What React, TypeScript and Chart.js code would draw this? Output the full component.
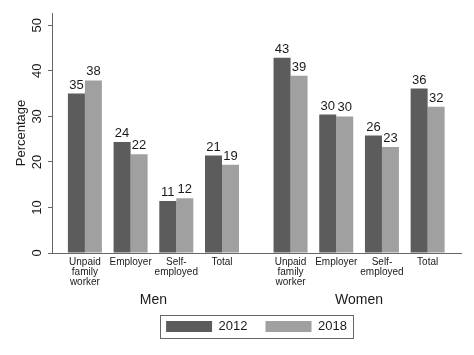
import React, { useEffect, useRef } from "react";
import { Chart, registerables } from "chart.js";

Chart.register(...registerables);

const groups = ["Men", "Women"];
const categoryLabels: string[][] = [
  ["Unpaid", "family", "worker"],
  ["Employer"],
  ["Self-", "employed"],
  ["Total"],
];
const seriesNames = ["2012", "2018"];
// values per group: Men (4 categories), then Women (4 categories)
const values2012 = [35.0, 24.4, 11.4, 21.4, 42.9, 30.4, 25.8, 36.1];
const values2018 = [37.9, 21.7, 12.0, 19.4, 38.9, 30.0, 23.3, 32.1];
const yTicks = [0, 10, 20, 30, 40, 50];

const colors = ["#5c5c5c", "#a0a0a0"];
const FONT = "'Liberation Sans', Arial, Helvetica, sans-serif";

// x position of each bar pair: categories spaced 1 apart, half-slot gap between groups
const nCat = categoryLabels.length;
const xPositions: number[] = [];
groups.forEach((_, g) => {
  categoryLabels.forEach((__, c) => {
    xPositions.push(g * (nCat + 0.5) + c);
  });
});

export default function App() {
  const ref = useRef<HTMLCanvasElement | null>(null);

  useEffect(() => {
    if (!ref.current) return;
    const seriesValues = [values2012, values2018];

    const extras = {
      id: "extras",
      afterLayout(chart: any) {
        const lg = chart.legend;
        if (lg) {
          lg.left = chart.chartArea.left;
          lg.right = chart.chartArea.right;
        }
      },
      afterDatasetsDraw(chart: any) {
        const ctx = chart.ctx;
        ctx.save();
        ctx.fillStyle = "#1a1a1a";
        ctx.font = `13px ${FONT}`;
        ctx.textAlign = "center";
        ctx.textBaseline = "alphabetic";
        chart.data.datasets.forEach((ds: any, di: number) => {
          const meta = chart.getDatasetMeta(di);
          meta.data.forEach((bar: any, i: number) => {
            const v = ds.data[i].y;
            ctx.fillText(String(Math.round(v)), bar.x, bar.y - 5);
          });
        });
        ctx.restore();
      },
      afterDraw(chart: any) {
        const ctx = chart.ctx;
        const xs = chart.scales.x;
        ctx.save();
        ctx.fillStyle = "#1a1a1a";
        ctx.font = `14px ${FONT}`;
        ctx.textAlign = "center";
        ctx.textBaseline = "middle";
        groups.forEach((g, gi) => {
          const center = gi * (nCat + 0.5) + (nCat - 1) / 2;
          ctx.fillText(g, xs.getPixelForValue(center), xs.bottom - 2);
        });
        // legend frame
        const hb = chart.legend?.legendHitBoxes || [];
        if (hb.length) {
          const left = Math.min(...hb.map((h: any) => h.left)) - 6;
          const right = Math.max(...hb.map((h: any) => h.left + h.width)) + 6;
          const top = Math.min(...hb.map((h: any) => h.top)) - 5;
          const bottom = Math.max(...hb.map((h: any) => h.top + h.height)) + 5;
          ctx.strokeStyle = "#666";
          ctx.lineWidth = 1;
          ctx.strokeRect(Math.round(left) + 0.5, Math.round(top) + 0.5, Math.round(right - left), Math.round(bottom - top));
        }
        ctx.restore();
      },
    };

    const chart = new Chart(ref.current, {
      type: "bar",
      data: {
        datasets: seriesNames.map((name, si) => ({
          label: name,
          data: xPositions.map((x, i) => ({ x, y: seriesValues[si][i] })),
          backgroundColor: colors[si],
          borderWidth: 0,
          categoryPercentage: 0.744,
          barPercentage: 1,
        })),
      },
      options: {
        animation: false,
        responsive: false,
        maintainAspectRatio: false,
        layout: { padding: { top: 13, right: 13, bottom: 12, left: 0 } },
        plugins: {
          tooltip: { enabled: false },
          legend: {
            position: "bottom",
            labels: {
              boxWidth: 46,
              boxHeight: 11,
              padding: 18,
              color: "#1a1a1a",
              font: { size: 13, family: FONT },
            },
          },
        },
        scales: {
          x: {
            type: "linear",
            offset: false,
            min: -0.72,
            max: 8.23,
            grid: { display: false, drawTicks: false, offset: false },
            border: { display: true, color: "#666", width: 1 },
            afterBuildTicks: (s: any) => {
              s.ticks = xPositions.map((v) => ({ value: v }));
            },
            afterFit: (s: any) => {
              s.height = 49;
              s.paddingLeft = 0;
              s.paddingRight = 0;
            },
            ticks: {
              autoSkip: false,
              maxRotation: 0,
              minRotation: 0,
              padding: 4,
              color: "#1a1a1a",
              font: { size: 10, family: FONT, lineHeight: 1 },
              callback: (_v: any, i: number) => categoryLabels[i % nCat],
            },
          },
          y: {
            min: 0,
            max: 52.7,
            afterBuildTicks: (s: any) => {
              s.ticks = yTicks.map((v) => ({ value: v }));
            },
            afterFit: (s: any) => {
              s.width = 52;
            },
            grid: { drawOnChartArea: false, drawTicks: true, tickLength: 4, color: "#666" },
            border: { display: true, color: "#666", width: 1 },
            ticks: {
              minRotation: 90,
              maxRotation: 90,
              crossAlign: "center",
              padding: 3,
              color: "#1a1a1a",
              font: { size: 13, family: FONT },
            },
            title: {
              display: true,
              text: "Percentage",
              color: "#1a1a1a",
              font: { size: 13, family: FONT },
              padding: { top: 14, bottom: 0 },
            },
          },
        },
      },
      plugins: [extras],
    } as any);

    return () => chart.destroy();
  }, []);

  return (
    <div style={{ position: "fixed", left: 0, top: 0, width: 474, height: 355, background: "#fff" }}>
      <canvas ref={ref} width={474} height={355} style={{ width: 474, height: 355 }} />
    </div>
  );
}
